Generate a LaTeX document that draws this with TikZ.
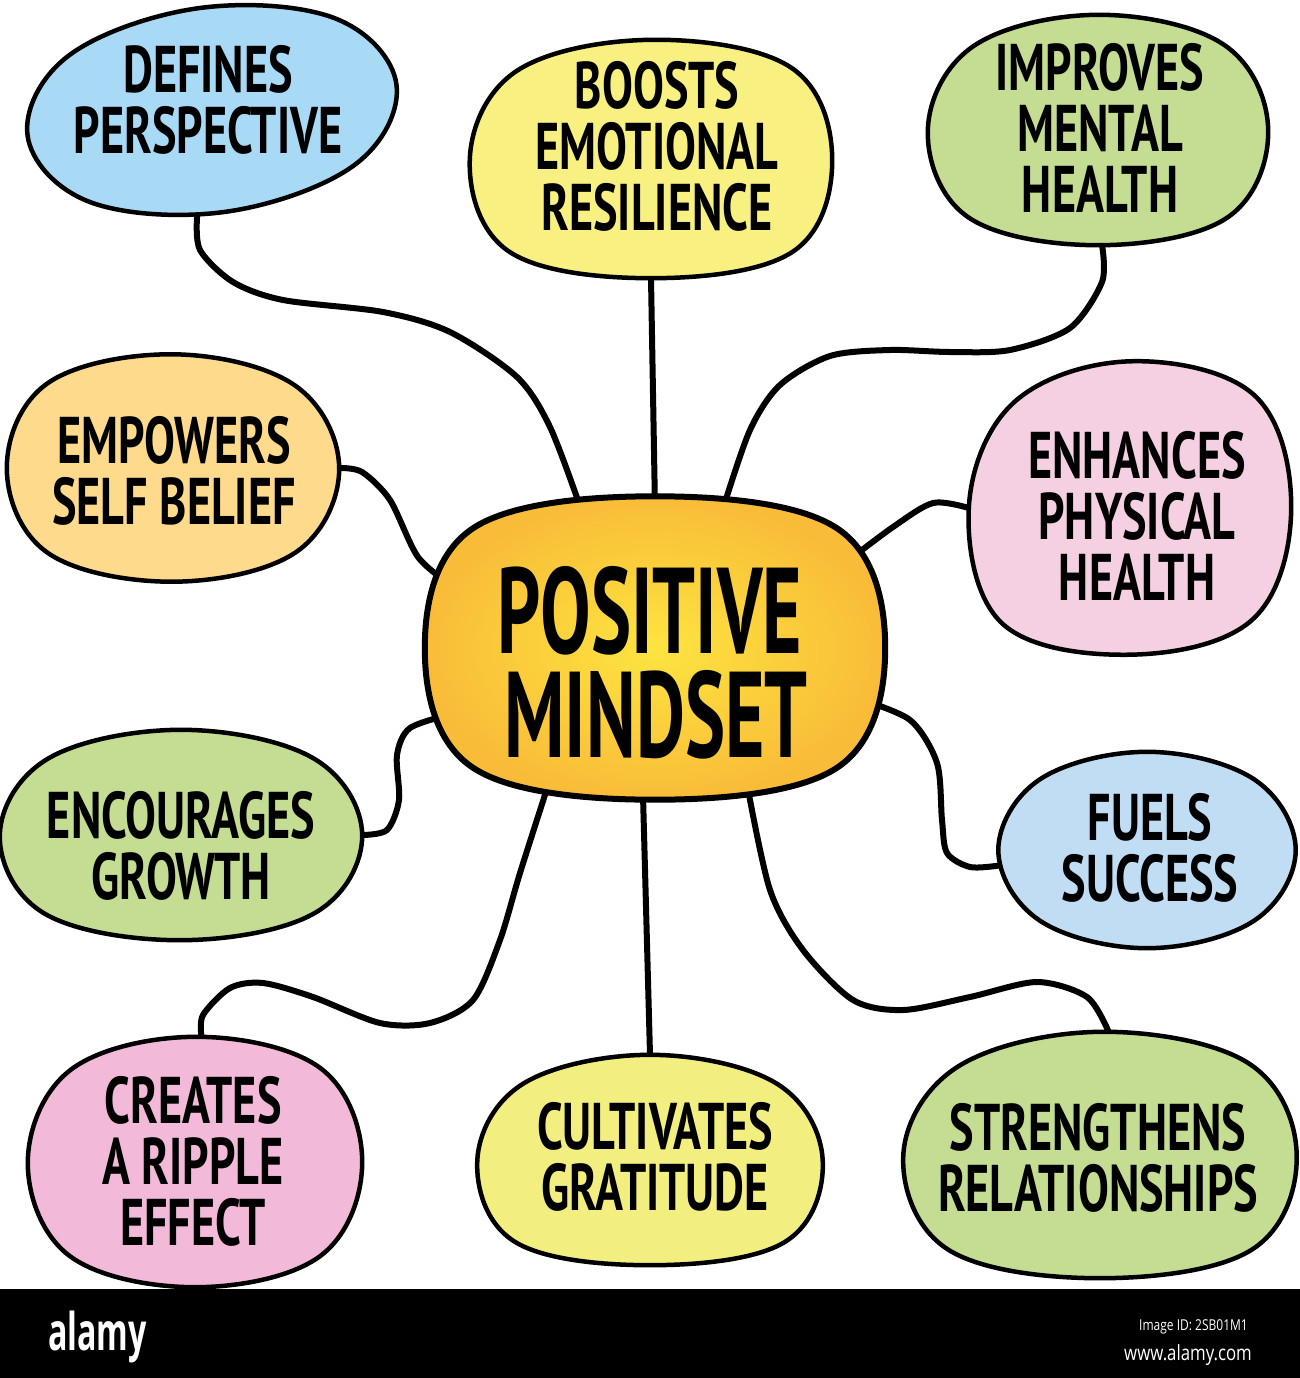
\documentclass[tikz,border=0pt]{standalone}
\usepackage{fontspec}
\setmainfont{PT Sans}
\newfontfamily\smallhand[FakeStretch=0.70]{PT Sans Bold}
\newfontfamily\bighand[FakeStretch=0.62]{PT Sans Bold}
\newfontfamily\logofont[FakeStretch=0.62]{Open Sans}
\newfontfamily\infofont[FakeStretch=0.8]{Open Sans}
\usetikzlibrary{calc}

\definecolor{cBlueA}{RGB}{169,218,245}
\definecolor{cBlueB}{RGB}{192,221,243}
\definecolor{cYellow}{RGB}{248,240,128}
\definecolor{cYellowB}{RGB}{242,238,128}
\definecolor{cGreen}{RGB}{196,221,146}
\definecolor{cOrange}{RGB}{253,218,140}
\definecolor{cPink}{RGB}{244,208,226}
\definecolor{cPinkB}{RGB}{243,185,216}
\definecolor{cCore}{RGB}{253,228,64}
\definecolor{cCoreOut}{RGB}{249,188,56}

\tikzset{
  spot/.style={rectangle, inner sep=0pt, draw=none},
  txt/.style={font=\smallhand\fontsize{66}{61}\selectfont, align=center, text=black, inner sep=0pt},
  bigtxt/.style={font=\bighand\fontsize{122}{122}\selectfont, text=black, inner sep=0pt, anchor=base},
  link/.style={line width=6pt, line cap=round, line join=round},
}
% closed hand-drawn-like outline through the anchors of a (shapeless) node
% #1 node, #2 options, #3-#6 corner factors (ne, se, sw, nw)
\newcommand\blobdraw[6]{%
  \path[draw=black, line width=4.5pt, #2] plot[smooth cycle, tension=0.62] coordinates {(#1.north) ($(#1.center)!#3!(#1.north east)$) (#1.east) ($(#1.center)!#4!(#1.south east)$) (#1.south) ($(#1.center)!#5!(#1.south west)$) (#1.west) ($(#1.center)!#6!(#1.north west)$)};}

\begin{document}
\begin{tikzpicture}[x=1pt,y=-1pt]
\useasboundingbox (0,0) rectangle (1300,1378);
\fill[white] (0,0) rectangle (1300,1378);

% bubble places
\node[spot, minimum width=372pt, minimum height=205pt, rotate=8] (def) at (212,110) {};
\node[spot, minimum width=362pt, minimum height=238pt] (boost) at (651,159) {};
\node[spot, minimum width=340pt, minimum height=230pt] (imp) at (1098,130) {};
\node[spot, minimum width=332pt, minimum height=227pt] (emp) at (173,468) {};
\node[spot, minimum width=322pt, minimum height=293pt] (enh) at (1130,508) {};
\node[spot, minimum width=460pt, minimum height=303pt] (ctr) at (655,648) {};
\node[spot, minimum width=362pt, minimum height=210pt] (enc) at (181,835) {};
\node[spot, minimum width=297pt, minimum height=196pt] (fuel) at (1147,850) {};
\node[spot, minimum width=334pt, minimum height=250pt] (rip) at (195,1162) {};
\node[spot, minimum width=345pt, minimum height=210pt] (cult) at (650,1160) {};
\node[spot, minimum width=393pt, minimum height=246pt] (str) at (1100,1155) {};

% connectors
\draw[link] plot[smooth] coordinates {(def.-106) (200,250) (233,282) (283,300) (383,312) (450,332) (517,377) (550,427) ($(ctr)!0.92!(ctr.118)$)};
\draw[link] (boost.south) -- ($(ctr)!0.92!(ctr.90)$);
\draw[link] plot[smooth] coordinates {(imp.-88) (1102,282) (1070,328) (1010,350) (950,352) (890,350) (830,356) (780,385) (750,430) ($(ctr)!0.92!(ctr.64)$)};
\draw[link] plot[smooth] coordinates {(emp.east) (362,472) (390,500) (418,557) ($(ctr)!0.88!(ctr.163)$)};
\draw[link] plot[smooth] coordinates {(enh.west) (933,503) (893,527) ($(ctr)!0.82!(ctr.24)$)};
\draw[link] plot[smooth] coordinates {(enc.east) (387,830) (399,800) (397,755) (410,728) ($(ctr)!0.88!(ctr.198)$)};
\draw[link] plot[smooth] coordinates {(fuel.-174) (970,867) (947,853) (942,820) (937,763) (910,720) ($(ctr)!0.88!(ctr.-14)$)};
\draw[link] plot[smooth] coordinates {(rip.87) (203,1015) (230,988) (263,983) (313,997) (380,1023) (430,1023) (473,1000) (500,940) (520,873) ($(ctr)!0.9!(ctr.-128)$)};
\draw[link] (cult.north) -- ($(ctr)!0.92!(ctr.-95)$);
\draw[link] plot[smooth] coordinates {(str.86) (1087,997) (1037,982) (970,997) (903,1010) (853,1000) (803,950) (770,890) ($(ctr)!0.9!(ctr.-56)$)};

% bubbles
\blobdraw{def}{fill=cBlueA}{0.72}{0.72}{0.72}{0.72}
\blobdraw{boost}{fill=cYellow}{0.77}{0.78}{0.78}{0.74}
\blobdraw{imp}{fill=cGreen}{0.74}{0.76}{0.76}{0.73}
\blobdraw{emp}{fill=cOrange}{0.73}{0.74}{0.75}{0.75}
\blobdraw{enh}{fill=cPink}{0.77}{0.76}{0.79}{0.72}
\blobdraw{ctr}{inner color=cCore, outer color=cCoreOut, line width=6pt}{0.79}{0.79}{0.79}{0.79}
\blobdraw{enc}{fill=cGreen}{0.73}{0.74}{0.75}{0.73}
\blobdraw{fuel}{fill=cBlueB}{0.72}{0.72}{0.72}{0.72}
\blobdraw{rip}{fill=cPinkB}{0.75}{0.75}{0.75}{0.74}
\blobdraw{cult}{fill=cYellowB}{0.73}{0.78}{0.78}{0.73}
\blobdraw{str}{fill=cGreen}{0.75}{0.77}{0.77}{0.72}

% texts
\node[txt] (defT) at (208,100) {DEFINES\\PERSPECTIVE};
\node[txt] (boostT) at (657,146) {BOOSTS\\EMOTIONAL\\RESILIENCE};
\node[txt] (impT) at (1100,128) {IMPROVES\\MENTAL\\HEALTH};
\node[txt] (empT) at (174,471) {EMPOWERS\\SELF BELIEF};
\node[txt] (enhT) at (1137,516) {ENHANCES\\PHYSICAL\\HEALTH};
\node[bigtxt] (ctrT1) at (650,653) {POSITIVE};
\node[bigtxt] (ctrT2) at (656,757) {MINDSET};
\node[txt] (encT) at (181,846) {ENCOURAGES\\GROWTH};
\node[txt] (fuelT) at (1150,848) {FUELS\\SUCCESS};
\node[txt] (ripT) at (193,1161) {CREATES\\A RIPPLE\\EFFECT};
\node[txt] (cultT) at (655,1157) {CULTIVATES\\GRATITUDE};
\node[txt] (strT) at (1098,1158) {STRENGTHENS\\RELATIONSHIPS};

% bottom bar
\fill[black] (0,1289) rectangle (1300,1378);
\node[font=\logofont\bfseries\fontsize{52}{52}\selectfont, text=white, anchor=base west, inner sep=0pt] (logo) at (48,1350) {alamy};
\node[font=\infofont\fontsize{15}{15}\selectfont, text=white, anchor=base east, inner sep=0pt] (imgid) at (1248,1330) {Image ID: 2SB01M1};
\node[font=\infofont\fontsize{21}{21}\selectfont, text=white, anchor=base east, inner sep=0pt] (url) at (1252,1360) {www.alamy.com};
\end{tikzpicture}
\end{document}
